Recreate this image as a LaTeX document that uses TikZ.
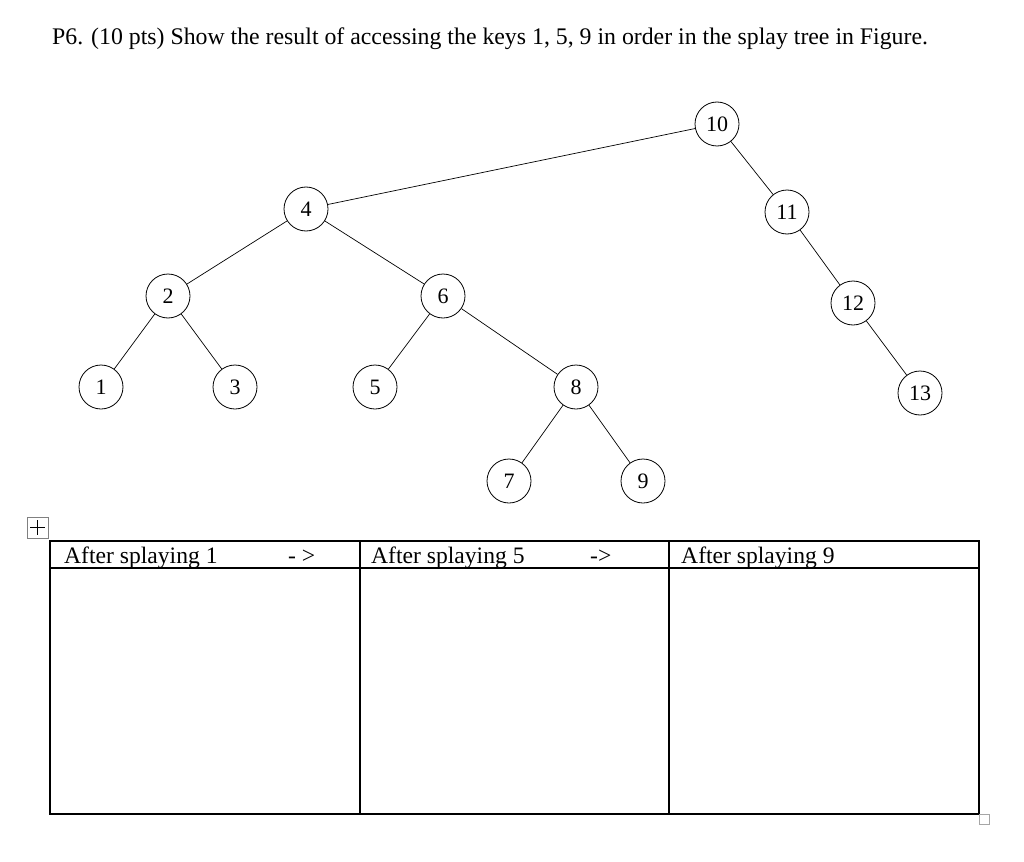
\documentclass[tikz,border=0pt]{standalone}
\usepackage{fontspec}
\setmainfont{Liberation Serif}
\begin{document}
\begin{tikzpicture}[x=1pt,y=-1pt,
  nd/.style={circle,draw,line width=0.8pt,minimum size=44pt,inner sep=0pt,font=\fontsize{22}{22}\selectfont},
  ed/.style={line width=0.7pt},
  hd/.style={anchor=base west,inner sep=0pt,font=\fontsize{23.6}{23.6}\selectfont}]
\useasboundingbox (0,0) rectangle (1024,861);
\node[anchor=base west,inner sep=0pt,font=\fontsize{23.8}{23.8}\selectfont] (title) at (52,45) {P6. (10 pts) Show the result of accessing the keys 1, 5, 9 in order in the splay tree in Figure.};
\node[nd] (n10) at (717,124) {10};
\node[nd] (n4) at (306,209) {4};
\node[nd] (n11) at (787,212) {11};
\node[nd] (n2) at (168,296) {2};
\node[nd] (n6) at (443,296) {6};
\node[nd] (n12) at (853,303) {12};
\node[nd] (n1) at (101,387) {1};
\node[nd] (n3) at (235,387) {3};
\node[nd] (n5) at (375,387) {5};
\node[nd] (n8) at (576,387) {8};
\node[nd] (n13) at (920,393) {13};
\node[nd] (n7) at (509,481) {7};
\node[nd] (n9) at (643,481) {9};
\foreach \a/\b in {n10/n4,n10/n11,n11/n12,n12/n13,n4/n2,n4/n6,n2/n1,n2/n3,n6/n5,n6/n8,n8/n7,n8/n9}
  \draw[ed] (\a) -- (\b);
\draw[line width=1.2pt] (50,541) rectangle (979,814);
\draw[line width=1.2pt] (50,568) -- (979,568);
\draw[line width=1.2pt] (360,541) -- (360,814);
\draw[line width=1.2pt] (669,541) -- (669,814);
\node[hd] (h1) at (64,563) {After splaying 1};
\node[hd] (a1) at (288,563) {- >};
\node[hd] (h2) at (371,563) {After splaying 5};
\node[hd] (a2) at (590,563) {->};
\node[hd] (h3) at (681,563) {After splaying 9};
\draw[line width=0.6pt,gray] (27,517) rectangle (48,538);
\draw[line width=0.8pt] (30,527.5) -- (45,527.5) (37.5,520) -- (37.5,535);
\draw[line width=0.6pt,gray!70] (979,814) rectangle (989,824);
\end{tikzpicture}
\end{document}
